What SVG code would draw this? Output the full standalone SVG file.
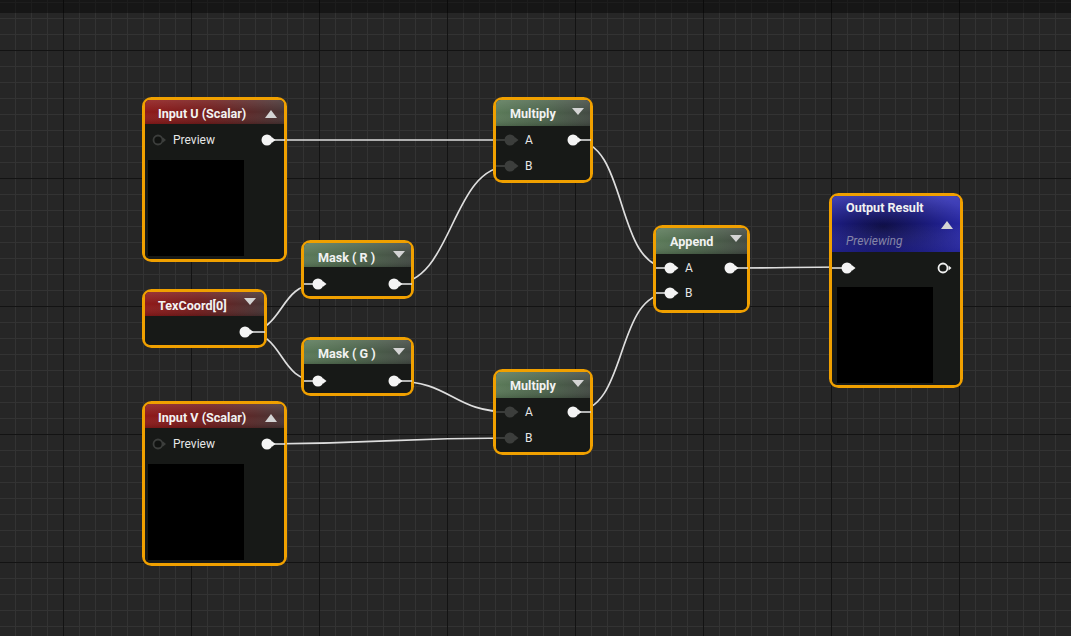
<svg xmlns="http://www.w3.org/2000/svg" xmlns:xlink="http://www.w3.org/1999/xlink" width="1071" height="636" viewBox="0 0 1071 636">
<defs>
<pattern id="minor" x="15" y="2" width="16" height="16" patternUnits="userSpaceOnUse">
<path d="M0.5,0V16M0,0.5H16" stroke="#333333" stroke-width="1" fill="none"/>
</pattern>
<pattern id="major" x="63" y="50" width="128" height="128" patternUnits="userSpaceOnUse">
<path d="M0.5,0V128M0,0.5H128" stroke="#131313" stroke-width="1" fill="none"/>
</pattern>
<linearGradient id="red" x1="0" y1="0" x2="1" y2="0">
<stop offset="0" stop-color="#8f1a1a"/>
<stop offset="0.45" stop-color="#731c1c"/>
<stop offset="1" stop-color="#463434"/>
</linearGradient>
<linearGradient id="green" x1="0" y1="0" x2="1" y2="0">
<stop offset="0" stop-color="#5b7a59"/>
<stop offset="0.5" stop-color="#4d654c"/>
<stop offset="1" stop-color="#434a43"/>
</linearGradient>
<radialGradient id="blue" cx="0.4" cy="0.55" r="0.7">
<stop offset="0" stop-color="#0e0e45"/>
<stop offset="0.6" stop-color="#1d1d86"/>
<stop offset="1" stop-color="#2c2cb0"/>
</radialGradient>
<linearGradient id="shine" x1="0" y1="0" x2="0" y2="1">
<stop offset="0" stop-color="#ffffff" stop-opacity="0.12"/>
<stop offset="0.5" stop-color="#ffffff" stop-opacity="0"/>
<stop offset="1" stop-color="#000000" stop-opacity="0.15"/>
</linearGradient>
<g id="pinW"><circle r="5.5" fill="#f4f4f4"/><path d="M5,-2.8L8.5,0L5,2.8Z" fill="#f4f4f4"/></g>
<g id="pinD"><circle r="5.5" fill="#3c3e3c"/><path d="M5,-2.8L8.5,0L5,2.8Z" fill="#3c3e3c"/></g>
<g id="pinH"><circle r="4.5" fill="#111311" stroke="#3c3e3c" stroke-width="1.8"/><path d="M5,-2.5L8,0L5,2.5Z" fill="#3c3e3c"/></g>
<g id="pinO"><circle r="4.5" fill="none" stroke="#f0f0f0" stroke-width="1.8"/><path d="M5.5,-2.5L8.5,0L5.5,2.5Z" fill="#f0f0f0"/></g>
</defs>
<style>
.sel{fill:#2d2818;stroke:#f0a000;stroke-width:3}
.body{fill:#171917}
.title{font-family:Roboto,"Liberation Sans",sans-serif;font-size:12.6px;font-weight:bold;fill:#f2f2f2}
.lbl{font-family:Roboto,"Liberation Sans",sans-serif;font-size:12px;fill:#e6e6e6}
.tri{fill:#d4d4d4}
.stubW{stroke:#dcdcdc;stroke-width:1.6;fill:none}
.stubD{stroke:#3a3c3a;stroke-width:2;fill:none}
.wire{stroke:#dedede;stroke-width:1.7;fill:none}
.prev{fill:#000}
</style>
<rect width="1071" height="636" fill="#262626"/>
<rect width="1071" height="636" fill="url(#minor)"/>
<rect width="1071" height="636" fill="url(#major)"/>
<rect width="1071" height="13" fill="#000" opacity="0.42"/>

<g id="connectors">
<path class="wire" d="M267,140H510"/>
<path class="wire" d="M394,284C454,284 450,166 510,166"/>
<path class="wire" d="M245,332C285,332 278,284 318,284"/>
<path class="wire" d="M245,332C285,332 278,381 318,381"/>
<path class="wire" d="M394,381C452,381 452,412 510,412"/>
<path class="wire" d="M267,444C390,443 390,438 510,438"/>
<path class="wire" d="M573,140C630,140 613,268 670,268"/>
<path class="wire" d="M573,412C630,412 613,293 670,293"/>
<path class="wire" d="M730,268C790,268 787,267 847,267"/>
</g>

<g id="inputU">
<rect class="sel" x="143.5" y="98.5" width="142" height="162" rx="8"/>
<rect class="body" x="145" y="100" width="139" height="159" rx="5"/>
<path d="M145,124V105Q145,100 150,100H279Q284,100 284,105V124Z" fill="url(#red)"/>
<path d="M145,124V105Q145,100 150,100H279Q284,100 284,105V124Z" fill="url(#shine)"/>
<text class="title" x="158" y="118">Input U (Scalar)</text>
<path class="tri" d="M265,118H277L271,110Z"/>
<use xlink:href="#pinH" x="158" y="140"/>
<text class="lbl" x="173" y="144">Preview</text>
<line class="stubW" x1="267" y1="140" x2="285" y2="140"/>
<use xlink:href="#pinW" x="267" y="140"/>
<rect class="prev" x="148" y="160" width="96" height="96"/>
</g>

<g id="texcoord">
<rect class="sel" x="143.5" y="290.5" width="122" height="56" rx="8"/>
<rect class="body" x="145" y="292" width="119" height="53" rx="5"/>
<path d="M145,316V297Q145,292 150,292H259Q264,292 264,297V316Z" fill="url(#red)"/>
<path d="M145,316V297Q145,292 150,292H259Q264,292 264,297V316Z" fill="url(#shine)"/>
<text class="title" x="158" y="310">TexCoord[0]</text>
<path class="tri" d="M244,298H256L250,305Z"/>
<line class="stubW" x1="245" y1="332" x2="265" y2="332"/>
<use xlink:href="#pinW" x="245" y="332"/>
</g>

<g id="maskR">
<rect class="sel" x="302.5" y="241.5" width="110" height="56" rx="8"/>
<rect class="body" x="304" y="243" width="107" height="53" rx="5"/>
<path d="M304,267V248Q304,243 309,243H406Q411,243 411,248V267Z" fill="url(#green)"/>
<path d="M304,267V248Q304,243 309,243H406Q411,243 411,248V267Z" fill="url(#shine)"/>
<text class="title" x="318" y="262">Mask ( R )</text>
<path class="tri" d="M393,251H405L399,258Z"/>
<line class="stubW" x1="304" y1="284" x2="318" y2="284"/>
<line class="stubW" x1="394" y1="284" x2="412" y2="284"/>
<use xlink:href="#pinW" x="318" y="284"/>
<use xlink:href="#pinW" x="394" y="284"/>
</g>

<g id="maskG">
<rect class="sel" x="302.5" y="338.5" width="110" height="56" rx="8"/>
<rect class="body" x="304" y="340" width="107" height="53" rx="5"/>
<path d="M304,364V345Q304,340 309,340H406Q411,340 411,345V364Z" fill="url(#green)"/>
<path d="M304,364V345Q304,340 309,340H406Q411,340 411,345V364Z" fill="url(#shine)"/>
<text class="title" x="318" y="358">Mask ( G )</text>
<path class="tri" d="M393,348H405L399,355Z"/>
<line class="stubW" x1="304" y1="381" x2="318" y2="381"/>
<line class="stubW" x1="394" y1="381" x2="412" y2="381"/>
<use xlink:href="#pinW" x="318" y="381"/>
<use xlink:href="#pinW" x="394" y="381"/>
</g>

<g id="multiplyTop">
<rect class="sel" x="494.5" y="98.5" width="97" height="83" rx="8"/>
<rect class="body" x="496" y="100" width="94" height="80" rx="5"/>
<path d="M496,126V105Q496,100 501,100H585Q590,100 590,105V126Z" fill="url(#green)"/>
<path d="M496,126V105Q496,100 501,100H585Q590,100 590,105V126Z" fill="url(#shine)"/>
<text class="title" x="510" y="118">Multiply</text>
<path class="tri" d="M572,108H584L578,115Z"/>
<line class="stubD" x1="496" y1="140" x2="510" y2="140"/>
<line class="stubD" x1="496" y1="166" x2="510" y2="166"/>
<use xlink:href="#pinD" x="510" y="140"/>
<use xlink:href="#pinD" x="510" y="166"/>
<text class="lbl" x="525" y="144">A</text>
<text class="lbl" x="525" y="170">B</text>
<line class="stubW" x1="573" y1="140" x2="591" y2="140"/>
<use xlink:href="#pinW" x="573" y="140"/>
</g>

<g id="multiplyBottom">
<rect class="sel" x="494.5" y="370.5" width="97" height="83" rx="8"/>
<rect class="body" x="496" y="372" width="94" height="80" rx="5"/>
<path d="M496,398V377Q496,372 501,372H585Q590,372 590,377V398Z" fill="url(#green)"/>
<path d="M496,398V377Q496,372 501,372H585Q590,372 590,377V398Z" fill="url(#shine)"/>
<text class="title" x="510" y="390">Multiply</text>
<path class="tri" d="M572,380H584L578,387Z"/>
<line class="stubD" x1="496" y1="412" x2="510" y2="412"/>
<line class="stubD" x1="496" y1="438" x2="510" y2="438"/>
<use xlink:href="#pinD" x="510" y="412"/>
<use xlink:href="#pinD" x="510" y="438"/>
<text class="lbl" x="525" y="416">A</text>
<text class="lbl" x="525" y="442">B</text>
<line class="stubW" x1="573" y1="412" x2="591" y2="412"/>
<use xlink:href="#pinW" x="573" y="412"/>
</g>

<g id="append">
<rect class="sel" x="654.5" y="226.5" width="94" height="85" rx="8"/>
<rect class="body" x="656" y="228" width="91" height="82" rx="5"/>
<path d="M656,254V233Q656,228 661,228H742Q747,228 747,233V254Z" fill="url(#green)"/>
<path d="M656,254V233Q656,228 661,228H742Q747,228 747,233V254Z" fill="url(#shine)"/>
<text class="title" x="670" y="246">Append</text>
<path class="tri" d="M730,235H742L736,242Z"/>
<line class="stubW" x1="656" y1="268" x2="670" y2="268"/>
<line class="stubW" x1="656" y1="293" x2="670" y2="293"/>
<use xlink:href="#pinW" x="670" y="268"/>
<use xlink:href="#pinW" x="670" y="293"/>
<text class="lbl" x="685" y="272">A</text>
<text class="lbl" x="685" y="297">B</text>
<line class="stubW" x1="730" y1="268" x2="748" y2="268"/>
<use xlink:href="#pinW" x="730" y="268"/>
</g>

<g id="outputResult">
<rect class="sel" x="830.5" y="194.5" width="131" height="192" rx="8"/>
<rect class="body" x="832" y="196" width="128" height="189" rx="5"/>
<path d="M832,252V201Q832,196 837,196H955Q960,196 960,201V252Z" fill="url(#blue)"/>
<path d="M832,252V201Q832,196 837,196H955Q960,196 960,201V252Z" fill="url(#shine)"/>
<text class="title" x="846" y="212">Output Result</text>
<path class="tri" d="M941,229H953L947,221Z"/>
<text class="lbl" x="846" y="245" font-style="italic" style="fill:#8585a8">Previewing</text>
<line class="stubW" x1="832" y1="268" x2="847" y2="268"/>
<use xlink:href="#pinW" x="847" y="268"/>
<use xlink:href="#pinO" x="943" y="268"/>
<rect class="prev" x="837" y="287" width="96" height="96"/>
</g>

<g id="inputV">
<rect class="sel" x="143.5" y="402.5" width="142" height="162" rx="8"/>
<rect class="body" x="145" y="404" width="139" height="159" rx="5"/>
<path d="M145,428V409Q145,404 150,404H279Q284,404 284,409V428Z" fill="url(#red)"/>
<path d="M145,428V409Q145,404 150,404H279Q284,404 284,409V428Z" fill="url(#shine)"/>
<text class="title" x="158" y="422">Input V (Scalar)</text>
<path class="tri" d="M265,422H277L271,414Z"/>
<use xlink:href="#pinH" x="158" y="444"/>
<text class="lbl" x="173" y="448">Preview</text>
<line class="stubW" x1="267" y1="444" x2="285" y2="444"/>
<use xlink:href="#pinW" x="267" y="444"/>
<rect class="prev" x="148" y="464" width="96" height="96"/>
</g>
</svg>
